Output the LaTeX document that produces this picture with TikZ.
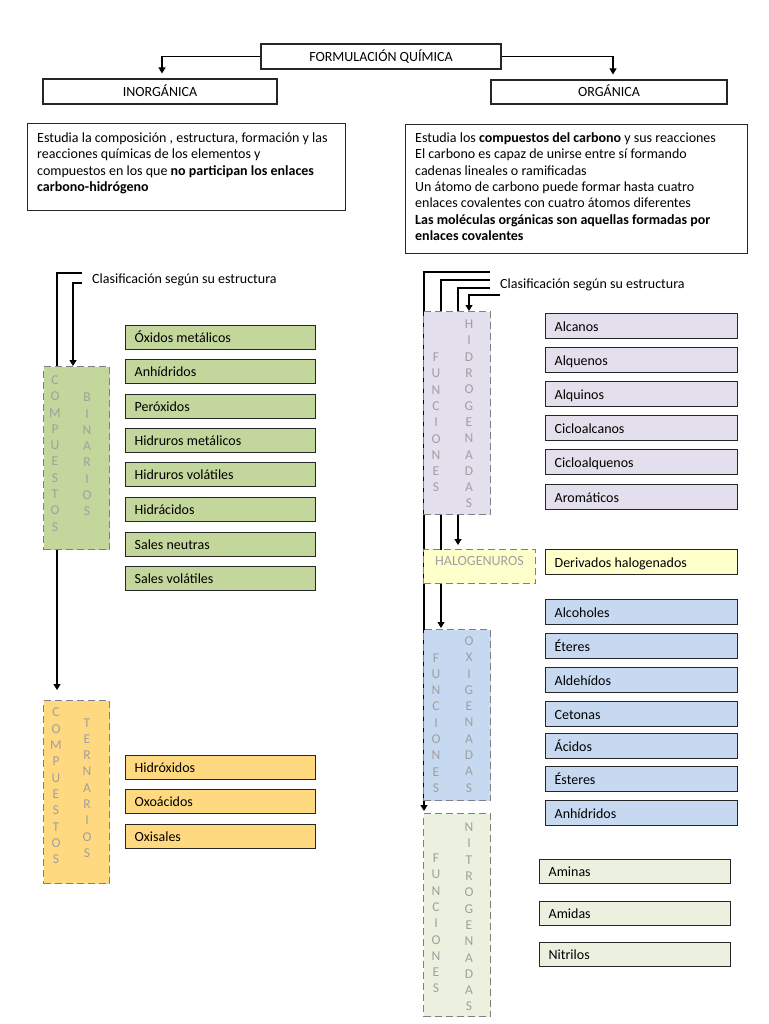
\documentclass[tikz,border=0pt]{standalone}
\usepackage{fontspec}
\setmainfont{Carlito}
\usetikzlibrary{arrows.meta,backgrounds}
\definecolor{grn}{HTML}{C3D69B}
\definecolor{ylw}{HTML}{FFD97F}
\definecolor{lav}{HTML}{E4DFEC}
\definecolor{hal}{HTML}{FFFFCC}
\definecolor{blu}{HTML}{C6D9F1}
\definecolor{lgr}{HTML}{EBF1DE}
\definecolor{txtgray}{HTML}{A0A0A0}
\definecolor{dashgray}{HTML}{808080}
\tikzset{
  topbox/.style={draw=black!85, line width=1.1pt, inner sep=0pt, text height=10pt, text depth=0pt,
    font=\fontsize{14}{17}\selectfont},
  item/.style={draw=black!85, line width=1.3pt, anchor=north west, minimum height=24pt, align=flush left,
    inner xsep=9pt, inner ysep=0pt, text height=10pt, text depth=0pt, font=\fontsize{14}{17}\selectfont},
  grp/.style={draw=dashgray, dashed, dash pattern=on 7pt off 4pt, line width=1pt, anchor=north west, inner sep=0pt},
  vtxt/.style={text=txtgray, font=\fontsize{13.5}{16.3}\selectfont, align=center, inner sep=0pt},
  desc/.style={draw=black!85, line width=1.1pt, anchor=north west, inner sep=0pt},
  desctxt/.style={anchor=north west, inner sep=0pt, align=left, font=\fontsize{14}{16.33}\selectfont},
  lbl/.style={anchor=west, inner sep=0pt, font=\fontsize{14}{17}\selectfont},
  conn/.style={draw=black, line width=1.1pt},
  arr/.style={conn, -{Triangle[width=7pt,length=6pt]}},
}
\begin{document}
\begin{tikzpicture}[x=1pt,y=-1pt]
\useasboundingbox (0,0) rectangle (768,1024);
% top
\node[topbox, minimum width=240pt, minimum height=25pt] (form) at (381,56.5) {FORMULACIÓN QUÍMICA};
\node[topbox, minimum width=234pt, minimum height=25pt] (inorg) at (160,91.5) {INORGÁNICA};
\node[topbox, minimum width=236pt, minimum height=24pt] (org) at (609,92) {ORGÁNICA};
% descriptions
\node[desc, minimum width=318pt, minimum height=87pt] (dl) at (27,123) {};
\node[desctxt] (dlt) at (37,132.5) {Estudia la composición , estructura, formación y las\\
reacciones químicas de los elementos y\\
compuestos en los que \textbf{no participan los enlaces}\\
\textbf{carbono-hidrógeno}};
\node[desc, minimum width=342pt, minimum height=129pt] (dr) at (405,124) {};
\node[desctxt] (drt) at (415,132.5) {Estudia los \textbf{compuestos del carbono} y sus reacciones\\
El carbono es capaz de unirse entre sí formando\\
cadenas lineales o ramificadas\\
Un átomo de carbono puede formar hasta cuatro\\
enlaces covalentes con cuatro átomos diferentes\\
\textbf{Las moléculas orgánicas son aquellas formadas por}\\
\textbf{enlaces covalentes}};
% classification labels
\node[lbl] (clsL) at (92,279.5) {Clasificación según su estructura};
\node[lbl] (clsR) at (500,284.5) {Clasificación según su estructura};
\coordinate (cl1) at (82,273);
\coordinate (cl2) at (82,283);
\coordinate (r1) at (490,272);
\coordinate (r2) at (490,280);
\coordinate (r3) at (490,288);
\coordinate (r4) at (500,295);
% group boxes
\node[grp, fill=grn, minimum width=66pt, minimum height=183pt] (bin) at (43,366) {};
\node[grp, fill=ylw, minimum width=66pt, minimum height=183pt] (tern) at (43,700) {};
\node[grp, fill=lav, minimum width=67pt, minimum height=203pt] (hid) at (423,311) {};
\node[grp, fill=hal, minimum width=112pt, minimum height=34pt, text=txtgray, font=\fontsize{14}{17}\selectfont,
  text height=4pt, text depth=6pt] (halo) at (423,549) {HALOGENUROS};
\node[grp, fill=blu, minimum width=67pt, minimum height=171pt] (oxi) at (423,629) {};
\node[grp, fill=lgr, minimum width=67pt, minimum height=203pt] (nit) at (423,813) {};
% vertical words
\node[vtxt] (binA) at (55,453.5) {C\\O\\M\\P\\U\\E\\S\\T\\O\\S};
\node[vtxt] (binB) at (87,454.5) {B\\I\\N\\A\\R\\I\\O\\S};
\node[vtxt] (ternA) at (56,786) {C\\O\\M\\P\\U\\E\\S\\T\\O\\S};
\node[vtxt] (ternB) at (87,788) {T\\E\\R\\N\\A\\R\\I\\O\\S};
\node[vtxt] (hidA) at (436,422.5) {F\\U\\N\\C\\I\\O\\N\\E\\S};
\node[vtxt] (hidB) at (469,414) {H\\I\\D\\R\\O\\G\\E\\N\\A\\D\\A\\S};
\node[vtxt] (oxiA) at (436,723) {F\\U\\N\\C\\I\\O\\N\\E\\S};
\node[vtxt] (oxiB) at (469,714.5) {O\\X\\I\\G\\E\\N\\A\\D\\A\\S};
\node[vtxt] (nitA) at (436,923.5) {F\\U\\N\\C\\I\\O\\N\\E\\S};
\node[vtxt] (nitB) at (469,917) {N\\I\\T\\R\\O\\G\\E\\N\\A\\D\\A\\S};
% green items
\node[item, fill=grn, text width=172pt] (g1) at (125,325) {Óxidos metálicos};
\node[item, fill=grn, text width=172pt] (g2) at (125,359) {Anhídridos};
\node[item, fill=grn, text width=172pt] (g3) at (125,394) {Peróxidos};
\node[item, fill=grn, text width=172pt] (g4) at (125,428) {Hidruros metálicos};
\node[item, fill=grn, text width=172pt] (g5) at (125,462) {Hidruros volátiles};
\node[item, fill=grn, text width=172pt] (g6) at (125,497) {Hidrácidos};
\node[item, fill=grn, text width=172pt] (g7) at (125,532) {Sales neutras};
\node[item, fill=grn, text width=172pt] (g8) at (125,566) {Sales volátiles};
% yellow items
\node[item, fill=ylw, text width=172pt] (y1) at (125,755) {Hidróxidos};
\node[item, fill=ylw, text width=172pt] (y2) at (125,789) {Oxoácidos};
\node[item, fill=ylw, text width=172pt] (y3) at (125,824) {Oxisales};
% lavender items
\node[item, fill=lav, text width=174pt, minimum height=25pt] (l1) at (545,313) {Alcanos};
\node[item, fill=lav, text width=174pt, minimum height=25pt] (l2) at (545,347) {Alquenos};
\node[item, fill=lav, text width=174pt, minimum height=25pt] (l3) at (545,381) {Alquinos};
\node[item, fill=lav, text width=174pt, minimum height=25pt] (l4) at (545,415) {Cicloalcanos};
\node[item, fill=lav, text width=174pt, minimum height=25pt] (l5) at (545,449) {Cicloalquenos};
\node[item, fill=lav, text width=174pt, minimum height=25pt] (l6) at (545,484) {Aromáticos};
% halogen item
\node[item, fill=hal, text width=174pt, minimum height=25pt] (h1) at (545,549) {Derivados halogenados};
% blue items
\node[item, fill=blu, text width=174pt, minimum height=25pt] (b1) at (545,599) {Alcoholes};
\node[item, fill=blu, text width=174pt, minimum height=25pt] (b2) at (545,633) {Éteres};
\node[item, fill=blu, text width=174pt, minimum height=25pt] (b3) at (545,667) {Aldehídos};
\node[item, fill=blu, text width=174pt, minimum height=25pt] (b4) at (545,701) {Cetonas};
\node[item, fill=blu, text width=174pt, minimum height=25pt] (b5) at (545,733) {Ácidos};
\node[item, fill=blu, text width=174pt, minimum height=25pt] (b6) at (545,766) {Ésteres};
\node[item, fill=blu, text width=174pt, minimum height=25pt] (b7) at (545,800) {Anhídridos};
% light green items
\node[item, fill=lgr, text width=173pt] (n1) at (539,859) {Aminas};
\node[item, fill=lgr, text width=173pt] (n2) at (539,901) {Amidas};
\node[item, fill=lgr, text width=173pt] (n3) at (539,942) {Nitrilos};
% connectors (behind boxes)
\begin{scope}[on background layer]
\draw[arr, shorten >=5pt] (form.west) -| ([xshift=2pt]inorg.north);
\draw[arr, shorten >=5pt] (form.east) -| ([xshift=4pt]org.north);
\draw[arr, shorten >=10pt] (cl1) -| ([xshift=14pt]tern.north west);
\draw[arr] (cl2) -| ([xshift=30pt]bin.north west);
\draw[arr, shorten >=2pt] (r1) -| ([xshift=1pt]nit.north west);
\draw[arr, shorten >=1pt] (r2) -| ([xshift=18pt]oxi.north west);
\draw[arr, shorten >=4pt] (r3) -| ([xshift=35pt]halo.north west);
\draw[arr] (r4) -| ([xshift=46pt]hid.north west);
\end{scope}
\end{tikzpicture}
\end{document}
